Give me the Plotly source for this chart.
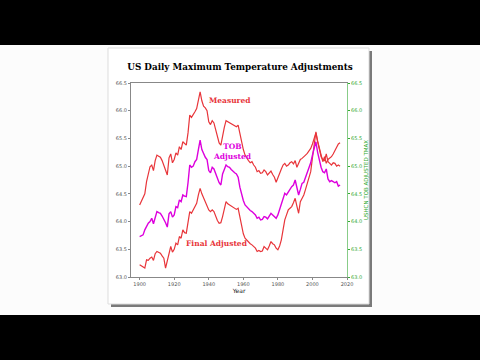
import plotly.graph_objects as go

# ---------------- data ----------------
years = list(range(1900, 2017))

measured = [64.30, 64.36, 64.42, 64.50, 64.72, 64.85, 64.99, 65.02, 64.92, 65.10,
            65.20, 65.18, 65.16, 65.10, 65.00, 64.92, 64.84, 65.15, 65.22, 65.06,
            65.12, 65.24, 65.20, 65.35, 65.30, 65.44, 65.40, 65.38, 65.60, 65.92,
            65.88, 65.92, 65.98, 66.04, 66.20, 66.34, 66.18, 66.08, 66.05, 66.00,
            65.80, 65.75, 65.82, 65.78, 65.66, 65.55, 65.42, 65.38, 65.58, 65.70,
            65.82, 65.80, 65.79, 65.76, 65.74, 65.72, 65.71, 65.74, 65.58, 65.44,
            65.30, 65.20, 65.14, 65.10, 65.06, 65.08, 65.02, 64.98, 64.90, 64.92,
            64.87, 64.88, 64.93, 64.90, 64.84, 64.88, 64.91, 64.85, 64.80, 64.71,
            64.80, 64.88, 64.95, 65.02, 65.05, 65.00, 65.02, 65.06, 65.08, 65.04,
            65.10, 64.98, 65.05, 65.12, 65.14, 65.18, 65.20, 65.23, 65.28, 65.32,
            65.40, 65.50, 65.60, 65.44, 65.30, 65.17, 65.12, 65.10, 65.22, 65.08,
            65.05, 65.02, 65.06, 65.05, 65.00, 65.02, 65.00]

tob_adjusted = [63.73, 63.75, 63.76, 63.85, 63.92, 63.97, 64.00, 64.06, 63.96, 64.10,
                64.18, 64.16, 64.15, 64.10, 64.05, 63.98, 63.90, 64.14, 64.18, 64.08,
                64.12, 64.27, 64.25, 64.39, 64.36, 64.48, 64.46, 64.45, 64.70, 65.02,
                64.98, 65.00, 65.08, 65.12, 65.30, 65.47, 65.30, 65.22, 65.16, 65.12,
                64.92, 64.88, 64.98, 64.95, 64.86, 64.78, 64.70, 64.66, 64.86, 64.94,
                65.02, 64.99, 64.98, 64.94, 64.90, 64.88, 64.86, 64.80, 64.62, 64.48,
                64.38, 64.30, 64.26, 64.24, 64.20, 64.18, 64.15, 64.12, 64.06, 64.08,
                64.03, 64.04, 64.09, 64.08, 64.05, 64.10, 64.15, 64.12, 64.09, 64.06,
                64.12, 64.22, 64.33, 64.42, 64.51, 64.48, 64.52, 64.58, 64.63, 64.66,
                64.75, 64.60, 64.48, 64.58, 64.69, 64.71, 64.80, 64.86, 64.95, 65.06,
                65.20, 65.32, 65.44, 65.25, 65.08, 64.98, 64.90, 64.88, 64.95, 64.77,
                64.72, 64.74, 64.72, 64.70, 64.72, 64.64, 64.66]

final_adjusted = [63.22, 63.20, 63.19, 63.16, 63.31, 63.30, 63.34, 63.36, 63.30, 63.42,
                  63.46, 63.45, 63.43, 63.38, 63.34, 63.16, 63.28, 63.40, 63.55, 63.45,
                  63.50, 63.61, 63.58, 63.73, 63.70, 63.85, 63.80, 63.79, 63.98, 64.18,
                  64.15, 64.21, 64.26, 64.33, 64.48, 64.60, 64.50, 64.42, 64.34, 64.27,
                  64.21, 64.18, 64.21, 64.18, 64.09, 64.02, 63.97, 63.98, 64.09, 64.25,
                  64.36, 64.32, 64.30, 64.28, 64.27, 64.24, 64.22, 64.24, 64.10, 63.91,
                  63.78, 63.70, 63.66, 63.64, 63.60, 63.58, 63.55, 63.52, 63.46, 63.48,
                  63.46, 63.47, 63.55, 63.52, 63.49, 63.56, 63.64, 63.60, 63.58, 63.52,
                  63.49, 63.56, 63.67, 63.85, 64.03, 64.12, 64.21, 64.24, 64.27, 64.34,
                  64.42, 64.28, 64.15, 64.36, 64.42, 64.48, 64.58, 64.69, 64.78, 64.90,
                  65.15, 65.44, 65.62, 65.45, 65.32, 65.18, 65.08, 65.17, 65.05, 65.12,
                  65.15, 65.17, 65.22, 65.29, 65.33, 65.40, 65.42]

x_ticks = [1900, 1920, 1940, 1960, 1980, 2000, 2020]
y_ticks = [63.0, 63.5, 64.0, 64.5, 65.0, 65.5, 66.0, 66.5]

RED = "#e8353a"
MAGENTA = "#dd00dd"
GREEN = "#33aa33"

# ---------------- layout geometry ----------------
W, H = 480, 360
L, R, T, B = 131, 133, 83, 83
PW, PH = W - L - R, H - T - B


def px(x):
    return (x - L) / PW


def py(y):
    return (H - B - y) / PH


fig = go.Figure()
fig.add_trace(go.Scatter(x=years, y=measured, mode="lines",
                         line=dict(color=RED, width=1.2), name="Measured"))
fig.add_trace(go.Scatter(x=years, y=final_adjusted, mode="lines",
                         line=dict(color=RED, width=1.2), name="Final Adjusted"))
fig.add_trace(go.Scatter(x=years, y=tob_adjusted, mode="lines", yaxis="y2",
                         line=dict(color=MAGENTA, width=1.4), name="TOB Adjusted"))

shapes = [
    dict(type="rect", xref="paper", yref="paper", x0=px(0), x1=px(W), y0=py(315), y1=py(45),
         fillcolor="#fcfcfc", line=dict(width=0), layer="below"),
    dict(type="rect", xref="paper", yref="paper", x0=px(111), x1=px(372), y0=py(307), y1=py(51),
         fillcolor="#7a7a7a", line=dict(width=0), layer="below"),
    dict(type="rect", xref="paper", yref="paper", x0=px(108), x1=px(369), y0=py(304), y1=py(48),
         fillcolor="white", line=dict(color="#dddddd", width=1), layer="below"),
]

ann_font = dict(family="DejaVu Serif", size=7.5)
annotations = [
    dict(x=1952, y=66.19, xref="x", yref="y", text="<b>Measured</b>", showarrow=False,
         font=dict(color=RED, **ann_font)),
    dict(x=1953.5, y=65.27, xref="x", yref="y", text="<b>TOB<br>Adjusted</b>", showarrow=False,
         font=dict(color=MAGENTA, **ann_font)),
    dict(x=1945, y=63.61, xref="x", yref="y", text="<b>Final Adjusted</b>", showarrow=False,
         font=dict(color=RED, **ann_font)),
]

tick_font = dict(family="DejaVu Sans", size=5, color="#555555")

fig.update_layout(
    width=W, height=H,
    margin=dict(l=L, r=R, t=T, b=B),
    paper_bgcolor="black",
    plot_bgcolor="white",
    showlegend=False,
    shapes=shapes,
    annotations=annotations,
    title=dict(text="<b>US Daily Maximum Temperature Adjustments</b>",
               x=0.5, xanchor="center", y=1 - 67 / H, yanchor="middle",
               font=dict(family="DejaVu Serif", size=8.8, color="#000000")),
    xaxis=dict(range=[1895, 2020], tickvals=x_ticks, ticktext=[str(v) for v in x_ticks],
               showgrid=False, zeroline=False, showline=True, linecolor="#888888",
               linewidth=1, mirror=True, ticks="outside", ticklen=2, tickcolor="#888888",
               tickfont=tick_font,
               title=dict(text="Year", font=dict(family="DejaVu Sans", size=6, color="#222222"),
                          standoff=0)),
    yaxis=dict(range=[63, 66.5], tickvals=y_ticks, ticktext=[f"{v:.1f}" for v in y_ticks],
               showgrid=False, zeroline=False, showline=True, linecolor="#888888",
               linewidth=1, ticks="outside", ticklen=2, tickcolor="#888888",
               tickfont=tick_font),
    yaxis2=dict(range=[63, 66.5], tickvals=y_ticks, ticktext=[f"{v:.1f}" for v in y_ticks],
                overlaying="y", side="right", showgrid=False, zeroline=False,
                showline=True, linecolor="#88cc88", linewidth=1, ticks="outside",
                ticklen=2, tickcolor=GREEN,
                tickfont=dict(family="DejaVu Sans", size=5, color=GREEN),
                title=dict(text="USHCN TOB ADJUSTED TMAX",
                           font=dict(family="DejaVu Sans", size=5.5, color=GREEN),
                           standoff=3)),
)

fig.write_html(
    "out.html",
    config={"displayModeBar": False},
    post_script="document.body.style.margin='0';document.body.style.overflow='hidden';"
                "document.body.style.background='black';",
)
